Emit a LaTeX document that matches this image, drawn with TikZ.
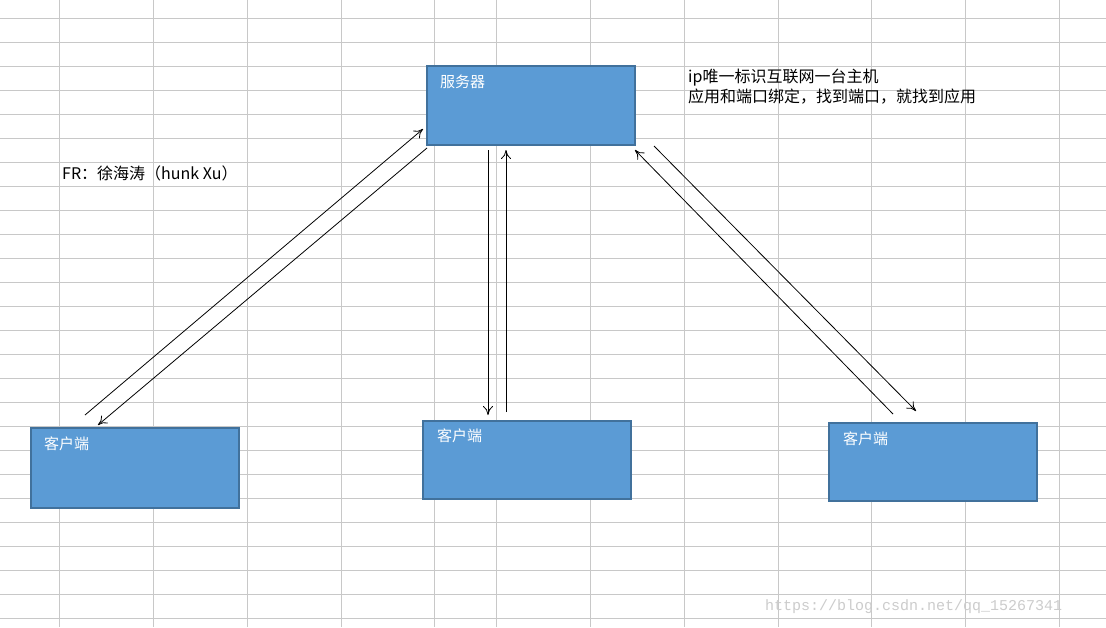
\documentclass[tikz,border=0pt]{standalone}
\usepackage{fontspec}
\setmainfont{Liberation Serif}
\newfontfamily\cjk{Noto Sans CJK SC}
\newfontfamily\wm{Liberation Mono}
\usetikzlibrary{arrows.meta}
\definecolor{boxfill}{HTML}{5B9BD5}
\definecolor{boxline}{HTML}{41719C}
\definecolor{gridc}{HTML}{C8C8C8}
\tikzset{
  box/.style={draw=boxline,line width=1.2pt,fill=boxfill},
  lbl/.style={anchor=north west,inner sep=0pt,text=white,font=\cjk\fontsize{15}{15}\selectfont},
  conn/.style={-{To[length=9pt,width=10pt]},line width=0.8pt},
  note/.style={anchor=north west,inner sep=0pt,font=\cjk\fontsize{16}{20}\selectfont,align=left}
}
\begin{document}
\begin{tikzpicture}[x=1pt,y=-1pt]
\useasboundingbox (0,0) rectangle (1106,627);
\fill[white] (0,0) rectangle (1106,627);
\foreach \x in {59,153,247,341,434,496,590,684,778,871,965,1059}
  \draw[gridc,line width=1pt] (\x,0) -- (\x,627);
\foreach \k in {0,...,25}
  \draw[gridc,line width=1pt] (0,18+24*\k) -- (1106,18+24*\k);
% boxes
\draw[box] (427,66) rectangle (635,145); \node[lbl] (s) at (440,75) {服务器};
\draw[box] (31,428) rectangle (239,508); \node[lbl] (c1) at (44,437) {客户端};
\draw[box] (423,421) rectangle (631,499); \node[lbl] (c2) at (437,429) {客户端};
\draw[box] (829,423) rectangle (1037,501); \node[lbl] (c3) at (843,432) {客户端};
% connector endpoints
\coordinate (a1) at (85,415); \coordinate (a2) at (423,129);
\coordinate (b1) at (427,148); \coordinate (b2) at (98,425);
\coordinate (m1) at (488,150); \coordinate (m2) at (488,415);
\coordinate (n1) at (506,412); \coordinate (n2) at (506,150);
\coordinate (r1) at (654,146); \coordinate (r2) at (916,411);
\coordinate (q1) at (893,414); \coordinate (q2) at (635,150);
\draw[conn] (a1) -- (a2);
\draw[conn] (b1) -- (b2);
\draw[conn] (m1) -- (m2);
\draw[conn] (n1) -- (n2);
\draw[conn] (r1) -- (r2);
\draw[conn] (q1) -- (q2);
% notes
\node[note] (t1) at (688,69) {ip唯一标识互联网一台主机\\应用和端口绑定，找到端口，就找到应用};
\node[note] (t2) at (62,166) {FR：徐海涛（hunk Xu）};
\node[anchor=west,inner sep=0pt,text=gray!40,font=\wm\fontsize{15}{15}\selectfont] (w) at (765,607) {https://blog.csdn.net/qq\_15267341};
\end{tikzpicture}
\end{document}
